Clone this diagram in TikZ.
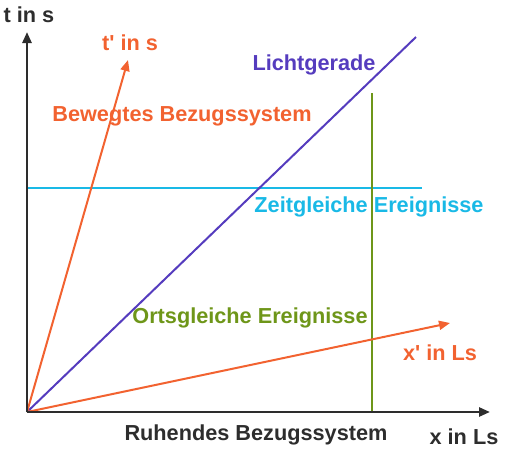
\documentclass[tikz,border=0pt]{standalone}
\usepackage{fontspec}
\setmainfont{Liberation Sans}
\usetikzlibrary{arrows.meta}
\tikzset{>={Triangle[width=9pt,length=11pt]}}
\definecolor{axisgray}{RGB}{45,45,45}
\definecolor{movorange}{RGB}{242,98,48}
\definecolor{lightpurple}{RGB}{85,60,190}
\definecolor{simcyan}{RGB}{25,185,230}
\definecolor{samegreen}{RGB}{110,150,25}
\begin{document}
\begin{tikzpicture}[x=1pt, y=-1pt]
          \tikzstyle{lbl} = [font=\bfseries\fontsize{21.7}{24}\selectfont, inner sep = 0pt]
          \tikzstyle{ax} = [line width=2.5pt, draw=axisgray, ->]
          \tikzstyle{ln} = [line width=2pt]
          \useasboundingbox (0, 0) rectangle (512, 451);

          \coordinate (o) at (27, 412);
          \coordinate (t) at (27, 32);
          \coordinate (x) at (490, 412);
          \coordinate (tp) at (128, 60);
          \coordinate (xp) at (450, 323);
          \coordinate (c) at (416, 37);
          \coordinate (s1) at (27, 188);
          \coordinate (s2) at (422, 188);
          \coordinate (p1) at (372, 93);
          \coordinate (p2) at (372, 412);

          \draw[ln, draw=simcyan] (s1) to (s2);
          \draw[ln, draw=samegreen] (p1) to (p2);
          \draw[ln, draw=lightpurple] (o) to (c);
          \draw[ln, draw=movorange, ->] (o) to (tp);
          \draw[ln, draw=movorange, ->] (o) to (xp);
          \draw[ax] (o) to (t);
          \draw[ax] (o) to (x);

          \node[lbl, text=axisgray] (tlbl) at (29, 15) {t in s};
          \node[lbl, text=axisgray] (xlbl) at (464, 437) {x in Ls};
          \node[lbl, text=axisgray] (rest) at (256, 435) {Ruhendes Bezugssystem};
          \node[lbl, text=movorange] (tplbl) at (130, 43) {t\textquotesingle{} in s};
          \node[lbl, text=movorange] (xplbl) at (440, 353) {x\textquotesingle{} in Ls};
          \node[lbl, text=movorange] (moving) at (182, 116) {Bewegtes Bezugssystem};
          \node[lbl, text=lightpurple] (light) at (314, 65) {Lichtgerade};
          \node[lbl, text=simcyan] (simul) at (369, 207) {Zeitgleiche Ereignisse};
          \node[lbl, text=samegreen] (place) at (250, 318) {Ortsgleiche Ereignisse};
        \end{tikzpicture}
\end{document}
